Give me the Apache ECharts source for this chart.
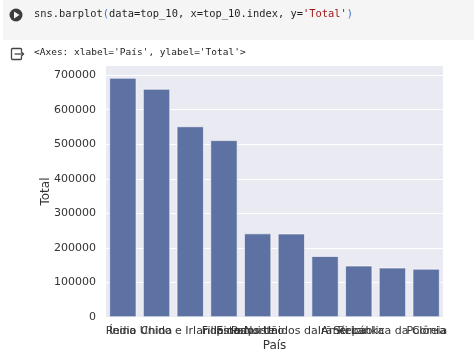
<!DOCTYPE html>
<html><head><meta charset="utf-8">
<script src="https://cdn.jsdelivr.net/npm/echarts@6/dist/echarts.min.js"></script>
<style>html,body{margin:0;padding:0;background:#fff}#c{width:474px;height:357px}</style>
</head><body><div id="c"></div>
<script>
const categories = ['Índia','China','Reino Unido e Irlanda do Norte','Filipinas','Paquistão','Estados Unidos da América','Irã','Sri Lanka','República da Coreia','Polônia'];
const totals = [691904, 659962, 551500, 511391, 241600, 241122, 175923, 148358, 142581, 139241];
const yTicks = [0,100000,200000,300000,400000,500000,600000,700000];
const yMax = 726500;

const chart = echarts.init(document.getElementById('c'), null, {renderer:'canvas'});
const mono = '"DejaVu Sans Mono", "Liberation Mono", monospace';
chart.setOption({
  animation:false,
  grid:{left:106,right:31,top:66,bottom:40,show:true,backgroundColor:'#eaeaf2',borderWidth:0,containLabel:false,outerBoundsMode:'none'},
  xAxis:{type:'category',data:categories,name:'País',nameLocation:'middle',nameGap:23,nameMoveOverlap:false,
    nameTextStyle:{color:'#333',fontSize:12,fontFamily:'DejaVu Sans'},
    axisLine:{show:false},axisTick:{show:false},
    axisLabel:{interval:0,color:'#333',fontSize:11,fontFamily:'DejaVu Sans',margin:9,overflow:'none'}},
  yAxis:{type:'value',min:0,max:yMax,interval:100000,name:'Total',nameLocation:'middle',nameGap:54,nameMoveOverlap:false,
    nameTextStyle:{color:'#333',fontSize:12,fontFamily:'DejaVu Sans'},
    axisLine:{show:false},axisTick:{show:false},
    axisLabel:{color:'#333',fontSize:11,fontFamily:'DejaVu Sans',margin:10,showMaxLabel:false,
      formatter:v=>yTicks.includes(v)?String(v):''},
    splitLine:{show:true,lineStyle:{color:'#ffffff',width:1},showMaxLine:false}},
  series:[{type:'bar',data:totals,barWidth:'80%',
    itemStyle:{color:'#5d72a2',borderColor:'#ffffff',borderWidth:0.6}}],
  graphic:[
    {type:'rect',shape:{x:3,y:0,width:471,height:40},style:{fill:'#f5f5f5'},z:-1},
    {type:'circle',shape:{cx:16,cy:15,r:6.5},style:{fill:'#3c3c3c'}},
    {type:'polygon',shape:{points:[[14,11.5],[14,18.5],[19.5,15]]},style:{fill:'#f5f5f5'}},
    {type:'text',left:34,top:9,style:{rich:{
        b:{fill:'#1f1f1f',fontFamily:mono,fontSize:10.4},
        p:{fill:'#3f72c4',fontFamily:mono,fontSize:10.4},
        s:{fill:'#a31515',fontFamily:mono,fontSize:10.4}},
      text:'{b|sns.barplot}{p|(}{b|data=top_10, x=top_10.index, y=}{s|\'Total\'}{p|)}'}},
    {type:'group',left:9,top:46,children:[
      {type:'rect',shape:{x:0,y:0,width:10,height:11,r:1},style:{fill:'none',stroke:'#444',lineWidth:1.3}},
      {type:'rect',shape:{x:6,y:3,width:6,height:5},style:{fill:'#fff'}},
      {type:'line',shape:{x1:3,y1:5.5,x2:12,y2:5.5},style:{stroke:'#444',lineWidth:1.3}},
      {type:'polyline',shape:{points:[[9.5,3],[12,5.5],[9.5,8]]},style:{stroke:'#444',lineWidth:1.3,fill:'none'}}
    ]},
    {type:'text',left:34,top:48,style:{text:"<Axes: xlabel='País', ylabel='Total'>",fill:'#222',fontFamily:mono,fontSize:9.5}}
  ]
});
</script></body></html>
